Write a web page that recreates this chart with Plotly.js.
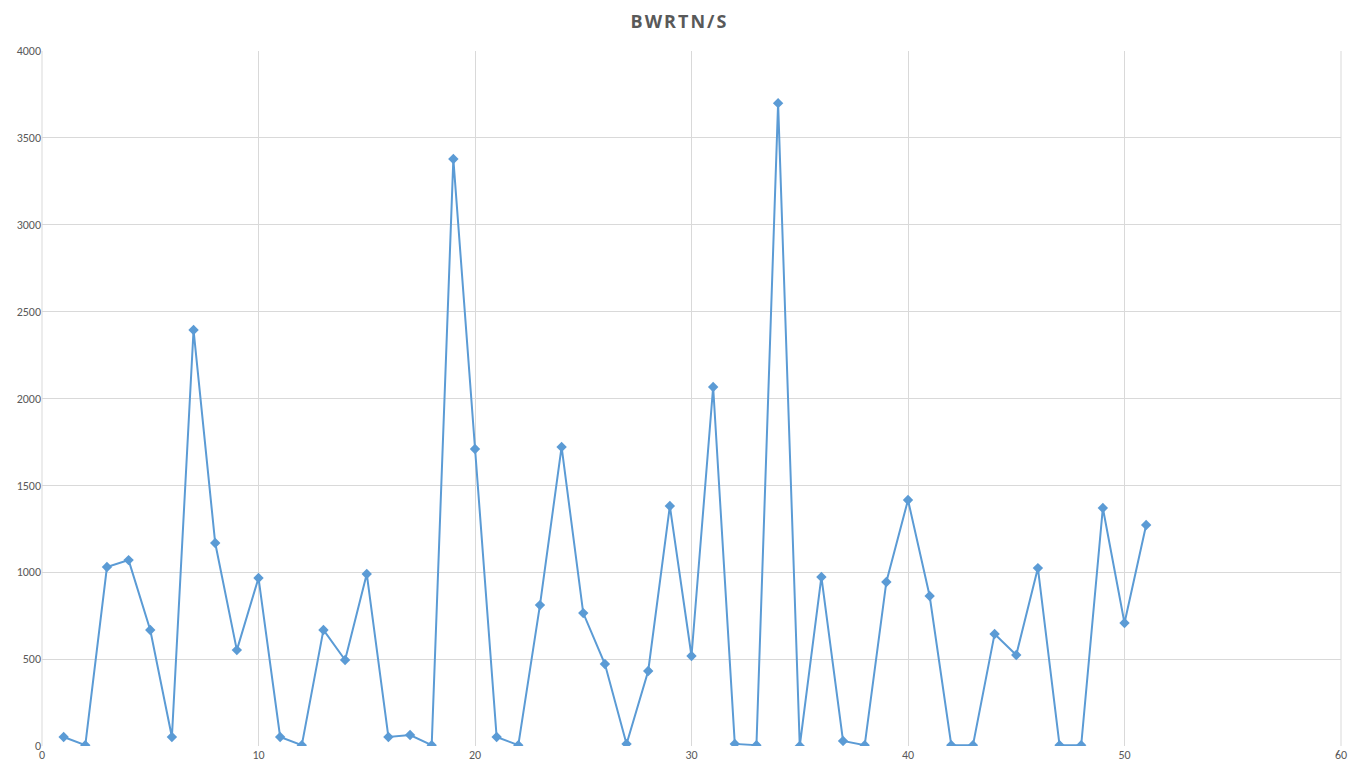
<!DOCTYPE html>
<html>
<head>
<meta charset="utf-8">
<script src="https://cdn.plot.ly/plotly-3.0.1.min.js"></script>
<style>
  html, body { margin: 0; padding: 0; background: #fff; }
  #chart { width: 1359px; height: 777px; }
  .gtitle { letter-spacing: 2px; }
</style>
</head>
<body>
<div id="chart"></div>
<script>
// sample index
const samples = [1, 2, 3, 4, 5, 6, 7, 8, 9, 10, 11, 12, 13, 14, 15, 16, 17,
  18, 19, 20, 21, 22, 23, 24, 25, 26, 27, 28, 29, 30, 31, 32, 33, 34, 35,
  36, 37, 38, 39, 40, 41, 42, 43, 44, 45, 46, 47, 48, 49, 50, 51];

// bwrtn/s values
const bwrtn = [52, 5, 1030, 1070, 668, 52, 2394, 1168, 552, 967, 52, 5, 668,
  495, 990, 52, 63, 5, 3378, 1709, 52, 5, 811, 1721, 765, 472, 12, 432, 1381,
  518, 2066, 12, 5, 3700, 0, 973, 29, 5, 944, 1416, 863, 5, 5, 645, 524, 1024,
  5, 5, 1370, 708, 1272];

const xTicks = [0, 10, 20, 30, 40, 50, 60];
const yTicks = [0, 500, 1000, 1500, 2000, 2500, 3000, 3500, 4000];

const trace = {
  x: samples,
  y: bwrtn,
  type: 'scatter',
  mode: 'lines+markers',
  line: {color: '#5B9BD5', width: 2},
  marker: {symbol: 'diamond', size: 8, color: '#5B9BD5'},
  hoverinfo: 'x+y'
};

const tickFont = {family: 'Calibri, Carlito, "Liberation Sans", sans-serif', size: 12, color: '#595959'};

const layout = {
  width: 1359,
  height: 777,
  margin: {l: 42, r: 18, t: 51, b: 31},
  paper_bgcolor: '#ffffff',
  plot_bgcolor: '#ffffff',
  showlegend: false,
  title: {
    text: '<b>BWRTN/S</b>',
    x: 0.5,
    xanchor: 'center',
    y: 0.972,
    yanchor: 'middle',
    font: {family: '"Open Sans", "Liberation Sans", sans-serif', size: 18, color: '#595959'}
  },
  xaxis: {
    range: [0, 60],
    tickvals: xTicks,
    ticktext: xTicks.map(String),
    showgrid: true,
    gridcolor: '#d9d9d9',
    gridwidth: 1,
    zeroline: false,
    showline: false,
    ticks: '',
    ticklen: 0,
    tickfont: tickFont,
    fixedrange: true
  },
  yaxis: {
    range: [0, 4000],
    tickvals: yTicks,
    ticktext: yTicks.map(String),
    showgrid: true,
    gridcolor: '#d9d9d9',
    gridwidth: 1,
    zeroline: false,
    showline: false,
    ticks: '',
    ticklen: 0,
    tickfont: tickFont,
    fixedrange: true
  },
  shapes: [
    // borders of plot area
    {type: 'line', xref: 'paper', yref: 'paper', x0: 1, x1: 1, y0: 0, y1: 1,
     line: {color: '#d9d9d9', width: 1}},
    {type: 'line', xref: 'paper', yref: 'paper', x0: 0, x1: 0, y0: 0, y1: 1,
     line: {color: '#d9d9d9', width: 1}}
  ]
};

Plotly.newPlot('chart', [trace], layout, {displayModeBar: false, staticPlot: true});
</script>
</body>
</html>
